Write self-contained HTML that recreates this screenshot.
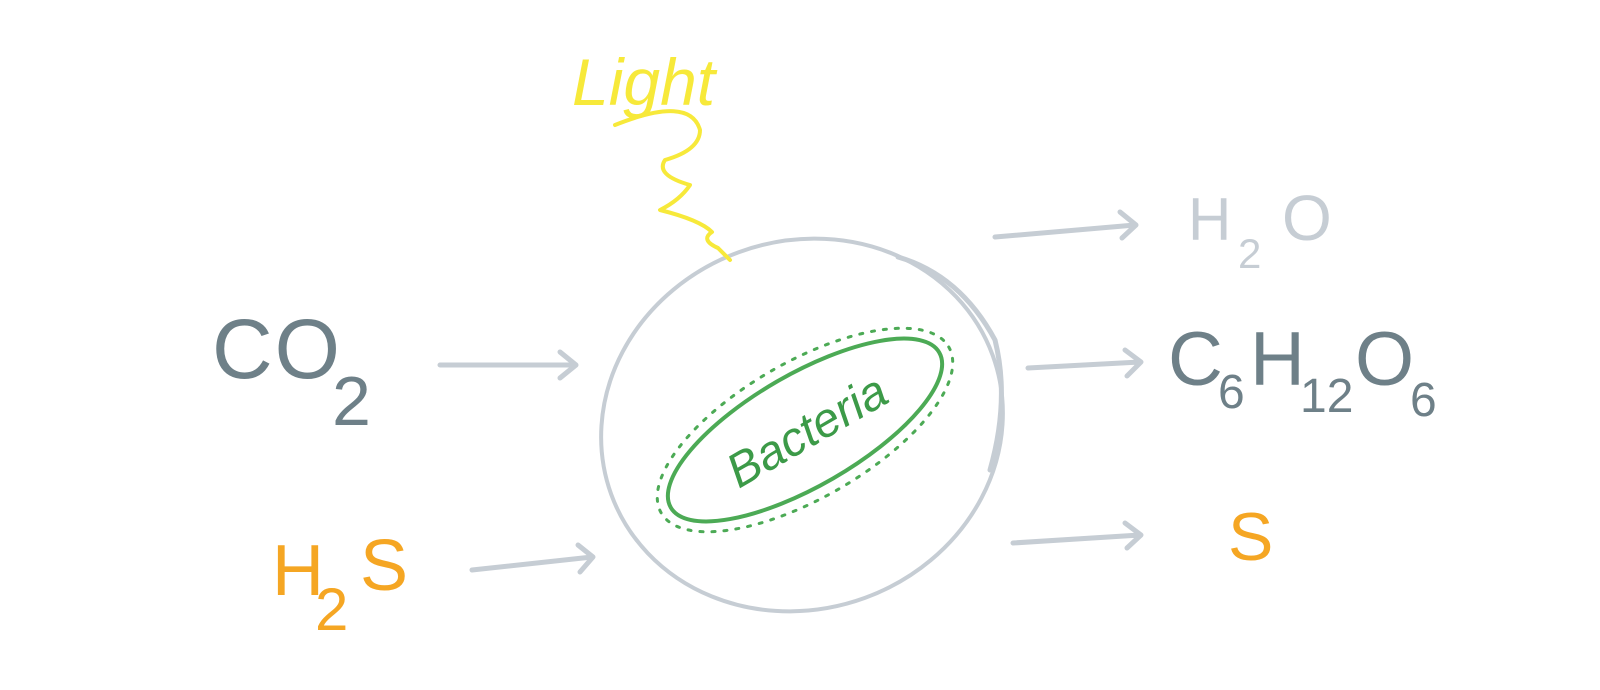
<!DOCTYPE html>
<html><head><meta charset="utf-8"><style>
html,body{margin:0;padding:0;background:#fff;width:1600px;height:690px;overflow:hidden}
svg text{font-family:"Liberation Sans",sans-serif}
</style></head><body>
<svg width="1600" height="690" viewBox="0 0 1600 690" xmlns="http://www.w3.org/2000/svg">
<g fill="none" stroke-linecap="round" stroke-linejoin="round">
<ellipse cx="802" cy="425" rx="203" ry="184" transform="rotate(-20 802 425)" stroke="#c6cdd4" stroke-width="4"/>
<path d="M898 257 Q960 275 995 340 Q1010 400 990 470" stroke="#c6cdd4" stroke-width="5"/>
<ellipse cx="805" cy="430" rx="155" ry="56" transform="rotate(-30 805 430)" stroke="#4caa55" stroke-width="4"/>
<ellipse cx="805" cy="430" rx="166" ry="68" transform="rotate(-30 805 430)" stroke="#4caa55" stroke-width="3" stroke-dasharray="3 9"/>
<g stroke="#c6cdd4" stroke-width="5">
<path d="M440 365 L575 365 M560 352 L576 365 L560 378"/>
<path d="M472 570 L592 557 M578 545 L593 557 L580 572"/>
<path d="M995 237 L1135 225 M1120 212 L1136 225 L1122 238"/>
<path d="M1028 368 L1140 362 M1125 350 L1141 362 L1127 376"/>
<path d="M1013 543 L1140 535 M1125 523 L1141 535 L1127 548"/>
</g>
<path d="M615 125 Q690 95 700 130 Q700 150 665 160 Q655 175 690 185 Q680 200 660 210 Q700 220 712 232 Q700 240 718 248 L730 260" stroke="#f7e93a" stroke-width="4"/>
</g>
<text x="572" y="105" font-size="66" fill="#f7e93a" font-style="italic">Light</text>
<text x="0" y="0" font-size="48" fill="#3c9a48" font-style="italic" transform="translate(815 445) rotate(-30)" text-anchor="middle">Bacteria</text>
<text x="212" y="378" font-size="84" fill="#6e8088" letter-spacing="2">CO</text>
<text x="332" y="425" font-size="70" fill="#6e8088">2</text>
<text x="272" y="595" font-size="72" fill="#f5a623">H</text>
<text x="315" y="630" font-size="60" fill="#f5a623">2</text>
<text x="360" y="590" font-size="72" fill="#f5a623">S</text>
<text x="1188" y="240" font-size="60" fill="#c6cdd4">H</text>
<text x="1238" y="268" font-size="42" fill="#c6cdd4">2</text>
<text x="1282" y="240" font-size="64" fill="#c6cdd4">O</text>
<text x="1168" y="385" font-size="76" fill="#6e8088">C</text>
<text x="1218" y="408" font-size="48" fill="#6e8088">6</text>
<text x="1250" y="385" font-size="76" fill="#6e8088">H</text>
<text x="1300" y="412" font-size="48" fill="#6e8088">12</text>
<text x="1355" y="385" font-size="76" fill="#6e8088">O</text>
<text x="1410" y="416" font-size="48" fill="#6e8088">6</text>
<text x="1228" y="560" font-size="68" fill="#f5a623">S</text>
</svg>
</body></html>
